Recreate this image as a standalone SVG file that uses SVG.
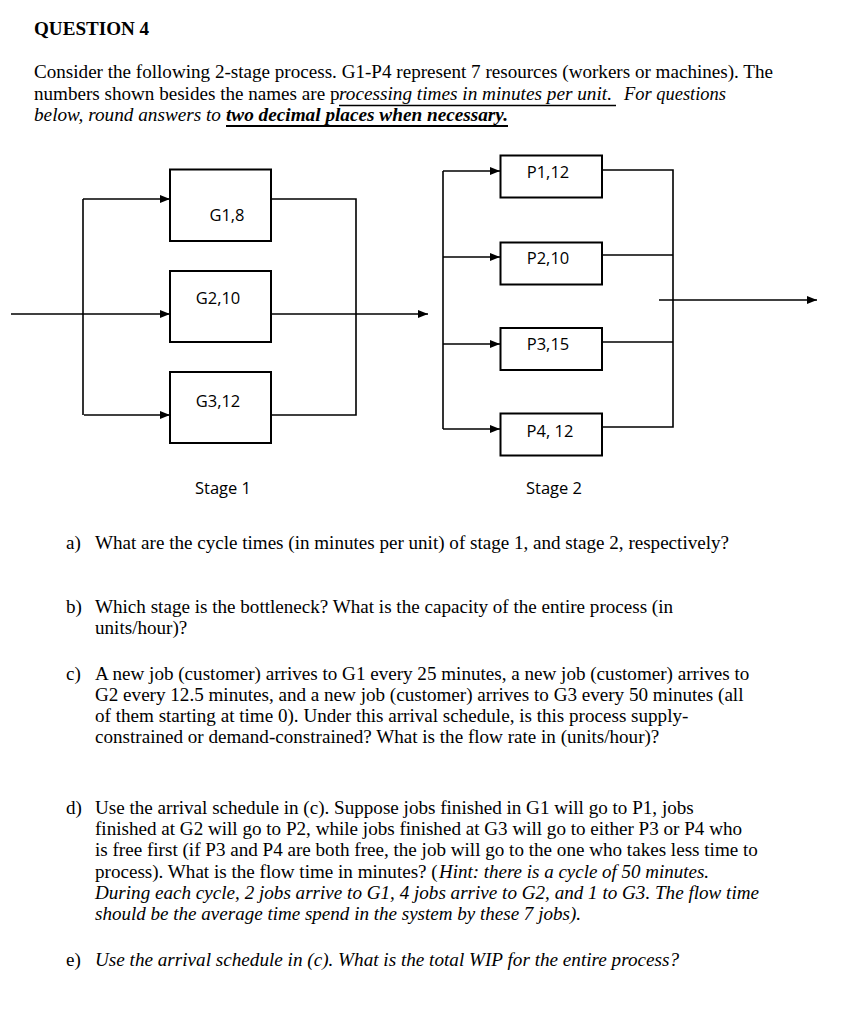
<svg xmlns="http://www.w3.org/2000/svg" width="845" height="1024" viewBox="0 0 845 1024">
<defs>
<marker id="arr" viewBox="0 0 10 8" refX="10" refY="4" markerWidth="10" markerHeight="8" markerUnits="userSpaceOnUse" orient="auto">
<path d="M0,0 L10,4 L0,8 Z" fill="#000"/>
</marker>
</defs>
<style>
.t{font-family:"Liberation Serif","Times New Roman",serif;font-size:19.1px;fill:#000}
.i{font-style:italic}
.b{font-weight:bold}
.box{fill:#fff;stroke:#000;stroke-width:2}
.lbl{font-family:"Open Sans","Noto Sans",sans-serif;font-size:16.5px;fill:#000;text-anchor:middle}
.ln{fill:none;stroke:#000;stroke-width:1.6}
.ul{stroke:#000}
</style>
<rect width="845" height="1024" fill="#fff"/>

<g id="header">
<text class="t b" x="34" y="35" font-size="18.7">QUESTION 4</text>
<text class="t" x="34" y="78" textLength="739" lengthAdjust="spacingAndGlyphs">Consider the following 2-stage process. G1-P4 represent 7 resources (workers or machines). The</text>
<text class="t" x="34" y="99.5">numbers shown besides the names are p</text>
<text class="t i" x="339" y="99.5" textLength="273" lengthAdjust="spacingAndGlyphs">rocessing times in minutes per unit.</text>
<text class="t i" x="624" y="99.5" textLength="102" lengthAdjust="spacingAndGlyphs">For questions</text>
<line class="ul" x1="339" y1="105.5" x2="616" y2="105.5" stroke-width="1.3"/>
<text class="t i" x="34" y="120.5" textLength="187" lengthAdjust="spacingAndGlyphs">below, round answers to</text>
<text class="t i b" x="226" y="120.5" textLength="282" lengthAdjust="spacingAndGlyphs">two decimal places when necessary.</text>
<line class="ul" x1="226" y1="126" x2="508" y2="126" stroke-width="2"/>
</g>

<g id="connectors">
<path class="ln" d="M83,199 V415"/>
<path class="ln" d="M83,199 H170" marker-end="url(#arr)"/>
<path class="ln" d="M11,314 H170" marker-end="url(#arr)"/>
<path class="ln" d="M84,415 H170" marker-end="url(#arr)"/>
<path class="ln" d="M271,199 H356 V415 H271"/>
<path class="ln" d="M271,314 H428" marker-end="url(#arr)"/>
<path class="ln" d="M443,171 V429"/>
<path class="ln" d="M443,171 H500" marker-end="url(#arr)"/>
<path class="ln" d="M443,257 H500" marker-end="url(#arr)"/>
<path class="ln" d="M443,344 H500" marker-end="url(#arr)"/>
<path class="ln" d="M443,429 H500" marker-end="url(#arr)"/>
<path class="ln" d="M600,170 H673 V427 H600"/>
<path class="ln" d="M602,255 H673"/>
<path class="ln" d="M602,342 H673"/>
<path class="ln" d="M659,300 H817" marker-end="url(#arr)"/>
</g>

<g id="G1"><rect class="box" x="170" y="169.5" width="101" height="71.5"/><text class="lbl" x="227" y="221">G1,8</text></g>
<g id="G2"><rect class="box" x="170" y="271" width="101" height="71"/><text class="lbl" x="218" y="304">G2,10</text></g>
<g id="G3"><rect class="box" x="170" y="372" width="101" height="71"/><text class="lbl" x="218" y="407">G3,12</text></g>
<g id="P1"><rect class="box" x="500.5" y="155.5" width="101.5" height="42"/><text class="lbl" x="548" y="178">P1,12</text></g>
<g id="P2"><rect class="box" x="500.5" y="242.5" width="101.5" height="42"/><text class="lbl" x="548" y="264">P2,10</text></g>
<g id="P3"><rect class="box" x="500.5" y="328" width="101.5" height="42"/><text class="lbl" x="548" y="350">P3,15</text></g>
<g id="P4"><rect class="box" x="500.5" y="413.5" width="101.5" height="42"/><text class="lbl" x="550" y="437">P4, 12</text></g>
<g id="stage-labels">
<text class="lbl" x="223" y="494">Stage 1</text>
<text class="lbl" x="554" y="494">Stage 2</text>
</g>

<g id="questions">
<text class="t" x="66" y="549">a)</text>
<text class="t" x="95" y="549" textLength="634" lengthAdjust="spacingAndGlyphs">What are the cycle times (in minutes per unit) of stage 1, and stage 2, respectively?</text>
<text class="t" x="66" y="613">b)</text>
<text class="t" x="95" y="613">Which stage is the bottleneck? What is the capacity of the entire process (in</text>
<text class="t" x="95" y="634">units/hour)?</text>
<text class="t" x="66" y="680">c)</text>
<text class="t" x="95" y="680">A new job (customer) arrives to G1 every 25 minutes, a new job (customer) arrives to</text>
<text class="t" x="95" y="701">G2 every 12.5 minutes, and a new job (customer) arrives to G3 every 50 minutes (all</text>
<text class="t" x="95" y="722">of them starting at time 0). Under this arrival schedule, is this process supply-</text>
<text class="t" x="95" y="742.5">constrained or demand-constrained? What is the flow rate in (units/hour)?</text>
<text class="t" x="66" y="814">d)</text>
<text class="t" x="95" y="814">Use the arrival schedule in (c). Suppose jobs finished in G1 will go to P1, jobs</text>
<text class="t" x="95" y="835.2">finished at G2 will go to P2, while jobs finished at G3 will go to either P3 or P4 who</text>
<text class="t" x="95" y="856.4">is free first (if P3 and P4 are both free, the job will go to the one who takes less time to</text>
<text class="t" x="95" y="877.6">process). What is the flow time in minutes? (</text>
<text class="t i" x="439" y="877.6" textLength="270" lengthAdjust="spacingAndGlyphs">Hint: there is a cycle of 50 minutes.</text>
<text class="t i" x="95" y="898.8" textLength="664" lengthAdjust="spacingAndGlyphs">During each cycle, 2 jobs arrive to G1, 4 jobs arrive to G2, and 1 to G3. The flow time</text>
<text class="t i" x="95" y="920" textLength="486" lengthAdjust="spacingAndGlyphs">should be the average time spend in the system by these 7 jobs).</text>
<text class="t" x="66" y="966">e)</text>
<text class="t i" x="95" y="966" textLength="584" lengthAdjust="spacingAndGlyphs">Use the arrival schedule in (c). What is the total WIP for the entire process?</text>
</g>
</svg>
